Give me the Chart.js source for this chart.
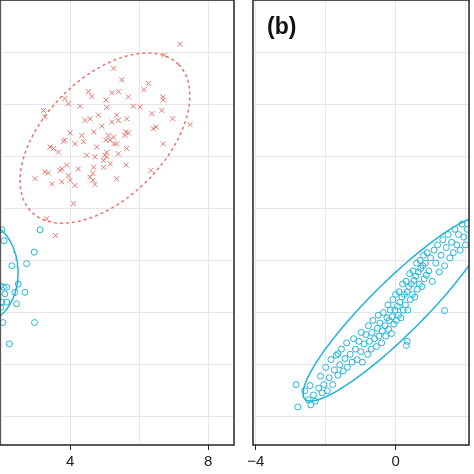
<!DOCTYPE html>
<html>
<head>
<meta charset="utf-8">
<script src="https://cdn.jsdelivr.net/npm/chart.js@4.4.8/dist/chart.umd.min.js"></script>
<style>
  html, body { margin: 0; padding: 0; background: #fff; overflow: hidden; }
  .panel { position: absolute; top: -5px; height: 479px; }
</style>
</head>
<body>
<div class="panel" style="left:-5px;width:245px"><canvas id="chartA"></canvas></div>
<div class="panel" style="left:240px;width:234px"><canvas id="chartB"></canvas></div>
<script>
// panel (a): group 1 (red crosses)
const redX = [7.19,6.73,5.26,5.50,6.27,6.14,4.53,4.63,3.85,3.95,5.21,5.40,5.69,5.04,6.69,6.70,6.66,4.29,3.23,3.27,4.82,4.58,4.43,5.06,5.35,5.40,5.64,5.83,6.03,6.37,6.97,7.48,6.49,6.41,4.92,5.21,4.00,4.34,4.39,4.69,5.11,5.62,5.69,5.59,5.16,5.26,5.35,5.04,3.85,3.81,3.42,3.52,3.66,4.77,4.48,4.72,5.01,5.06,5.40,5.64,6.70,3.90,3.76,3.71,3.27,3.37,2.98,3.47,3.76,4.00,4.14,4.24,4.68,4.97,5.16,4.66,4.66,4.72,5.35,5.62,6.34,4.10,3.32,3.58,5.06,5.27,4.14,4.97,3.95,4.58];
const redY = [7.15,6.94,6.69,6.47,6.40,6.28,6.24,6.15,6.11,6.01,6.22,6.24,6.14,6.08,6.14,6.08,5.88,5.96,5.88,5.76,5.79,5.72,5.69,5.94,5.79,5.69,5.72,5.96,5.95,5.82,5.72,5.61,5.56,5.53,5.58,5.66,5.45,5.40,5.28,5.47,5.40,5.47,5.45,5.40,5.31,5.37,5.24,5.31,5.31,5.29,5.18,5.15,5.08,5.18,5.02,4.99,5.02,4.99,5.05,5.15,5.24,4.83,4.76,4.73,4.70,4.68,4.57,4.47,4.51,4.54,4.44,4.76,4.79,4.79,4.86,4.67,4.54,4.46,4.57,4.83,4.73,4.09,3.80,3.48,5.08,5.24,5.24,4.92,4.63,4.60];
// panel (a): group 2 (cyan circles)
const cyanAX = [2.02,2.09,3.13,2.96,2.74,2.31,2.50,2.40,2.69,2.07,2.16,2.11,2.02,2.16,2.45,2.05,2.97,2.24,1.98,1.99];
const cyanAY = [3.59,3.38,3.59,3.16,2.94,2.90,2.55,2.39,2.39,2.49,2.49,2.36,2.20,2.20,2.17,1.81,1.81,1.40,2.52,2.10];
// panel (b)
const cyanBX = [-2.85,-2.8,-2.43,-2.6,-2.5,-2.45,-2.35,-2.3,-2.2,-2.15,-2.1,-2.05,-2.0,-1.95,-1.9,-1.85,-1.8,-1.75,-1.7,-1.65,-1.65,-1.6,-1.55,-1.5,-1.45,-1.4,-1.38,-1.3,-1.25,-1.2,-1.15,-1.1,-1.05,-1.0,-0.98,-0.95,-0.9,-0.85,-0.8,-0.78,-0.75,-0.7,-0.68,-0.65,-0.6,-0.55,-0.52,-0.5,-0.48,-0.45,-0.4,-0.38,-0.35,-0.3,-0.28,-0.25,-0.22,-0.2,-0.18,-0.15,-0.12,-0.1,-0.08,-0.05,-0.02,0.0,0.02,0.05,0.08,0.1,0.12,0.15,0.18,0.2,0.22,0.25,0.28,0.3,0.31,0.33,0.33,0.35,0.38,0.4,0.42,0.45,0.48,0.5,0.52,0.55,0.58,0.6,0.62,0.65,0.68,0.7,0.72,0.75,0.78,0.8,0.82,0.85,0.88,0.9,0.95,1.0,1.05,1.1,1.15,1.2,1.25,1.3,1.35,1.4,1.4,1.45,1.5,1.55,1.6,1.65,1.7,1.75,1.8,1.85,1.9,1.95,2.0,2.05];
const cyanBY = [0.62,0.19,0.23,0.5,0.33,0.6,0.42,0.3,0.55,0.78,0.46,0.62,0.95,0.5,0.75,1.1,0.62,0.9,1.18,0.8,1.21,1.0,1.3,0.88,1.12,1.42,0.95,1.2,1.05,1.5,1.3,1.1,1.45,1.25,1.62,1.05,1.4,1.58,1.2,1.75,1.45,1.3,1.62,1.85,1.5,1.35,1.7,1.95,1.55,1.8,1.42,1.65,2.0,1.75,1.55,1.9,2.15,1.68,1.85,2.05,1.6,1.92,2.25,1.78,2.05,2.35,1.85,2.12,1.95,2.4,2.2,1.9,2.3,2.55,2.05,2.35,2.15,2.6,1.37,2.4,1.45,2.05,2.5,2.75,2.25,2.55,2.35,2.8,2.62,2.3,2.7,2.95,2.45,2.78,2.55,3.0,2.85,2.5,2.9,3.1,2.65,2.95,2.72,3.15,2.8,3.05,2.6,3.2,2.95,3.3,2.78,3.1,3.4,2.9,2.04,3.25,3.5,3.05,3.35,3.15,3.6,3.3,3.5,3.2,3.7,3.45,3.3,3.6];

// ellipse params: centre (data), semi-axes a,b and angle in screen pixels
const ellRed = { cx: 5.01, cy: 5.35, a: 104, b: 60, deg: 45 };
const ellCyanA = { cx: 1.45, cy: 2.77, a: 50, b: 36, deg: 90 };
const ellCyanB = { cx: 0.02, cy: 2.08, a: 130, b: 27, deg: 44 };
const pxPerY = 52;

const RED = '#E8746B';
const CYAN = '#22B4D8';

function pts(xs, ys) { return xs.map((x, i) => ({ x: x, y: ys[i] })); }

function ellipse(e, pxPerX) {
  const out = [];
  const th = e.deg * Math.PI / 180;
  for (let i = 0; i <= 120; i++) {
    const t = i / 120 * 2 * Math.PI;
    const dx = e.a * Math.cos(t) * Math.cos(th) - e.b * Math.sin(t) * Math.sin(th);
    const dy = e.a * Math.cos(t) * Math.sin(th) + e.b * Math.sin(t) * Math.cos(th);
    out.push({ x: e.cx + dx / pxPerX, y: e.cy + dy / pxPerY });
  }
  return out;
}

const framePlugin = {
  id: 'frame',
  afterDraw(chart, args, opts) {
    const c = chart.ctx, a = chart.chartArea;
    c.save();
    c.strokeStyle = '#222';
    c.lineWidth = 1.5;
    c.strokeRect(a.left, a.top, a.right - a.left, a.bottom - a.top);
    if (opts.label) {
      c.fillStyle = '#111';
      c.font = 'bold 23px "Liberation Sans", Arial, sans-serif';
      c.textBaseline = 'top';
      c.fillText(opts.label, a.left + 14, a.top + 16);
    }
    c.restore();
  }
};

function makeOpts(xmin, xmax, gridTicks, labelled, padding, label) {
  return {
    animation: false,
    responsive: true,
    maintainAspectRatio: false,
    layout: { padding: padding },
    plugins: { legend: { display: false }, tooltip: { enabled: false }, frame: { label: label } },
    scales: {
      x: {
        type: 'linear', min: xmin, max: xmax,
        afterBuildTicks: s => { s.ticks = gridTicks.map(v => ({ value: v })); },
        grid: {
          color: '#e6e6e6', lineWidth: 1, tickLength: 5,
          tickColor: ctx => (ctx.tick && labelled.includes(ctx.tick.value)) ? '#222' : 'rgba(0,0,0,0)'
        },
        border: { display: false },
        ticks: {
          autoSkip: false, maxRotation: 0, padding: 3, color: '#222',
          font: { size: 15, family: '"Liberation Sans", Arial, sans-serif' },
          callback: v => labelled.includes(v) ? String(v).replace('-', '\u2212') : ''
        }
      },
      y: {
        type: 'linear', min: -0.54, max: 8, display: true,
        afterBuildTicks: s => { s.ticks = [0,1,2,3,4,5,6,7,8].map(v => ({ value: v })); },
        grid: { color: '#e6e6e6', lineWidth: 1, drawTicks: false },
        border: { display: false },
        ticks: { display: false }
      }
    }
  };
}

new Chart(document.getElementById('chartA'), {
  type: 'scatter',
  data: {
    datasets: [
      { data: ellipse(ellRed, 34.5), showLine: true, pointRadius: 0, borderColor: RED, borderWidth: 1.5, borderDash: [3, 3], fill: false },
      { data: ellipse(ellCyanA, 34.5), showLine: true, pointRadius: 0, borderColor: CYAN, borderWidth: 1.5, fill: false },
      { data: pts(redX, redY), pointStyle: 'crossRot', pointRadius: 3.5, borderColor: RED, borderWidth: 1, backgroundColor: 'rgba(0,0,0,0)' },
      { data: pts(cyanAX, cyanAY), pointStyle: 'circle', pointRadius: 3, borderColor: CYAN, borderWidth: 1, backgroundColor: 'rgba(0,0,0,0)' }
    ]
  },
  options: makeOpts(1.97, 8.75, [2, 4, 6, 8], [4, 8], { left: 0, right: 6, top: 0, bottom: 0 }, null),
  plugins: [framePlugin]
});

new Chart(document.getElementById('chartB'), {
  type: 'scatter',
  data: {
    datasets: [
      { data: ellipse(ellCyanB, 35.75), showLine: true, pointRadius: 0, borderColor: CYAN, borderWidth: 1.5, fill: false },
      { data: pts(cyanBX, cyanBY), pointStyle: 'circle', pointRadius: 3, borderColor: CYAN, borderWidth: 1, backgroundColor: 'rgba(0,0,0,0)' }
    ]
  },
  options: makeOpts(-4.08, 2.1, [-4, -2, 0, 2], [-4, 0], { left: 13, right: 0, top: 0, bottom: 0 }, '(b)'),
  plugins: [framePlugin]
});
</script>
</body>
</html>
